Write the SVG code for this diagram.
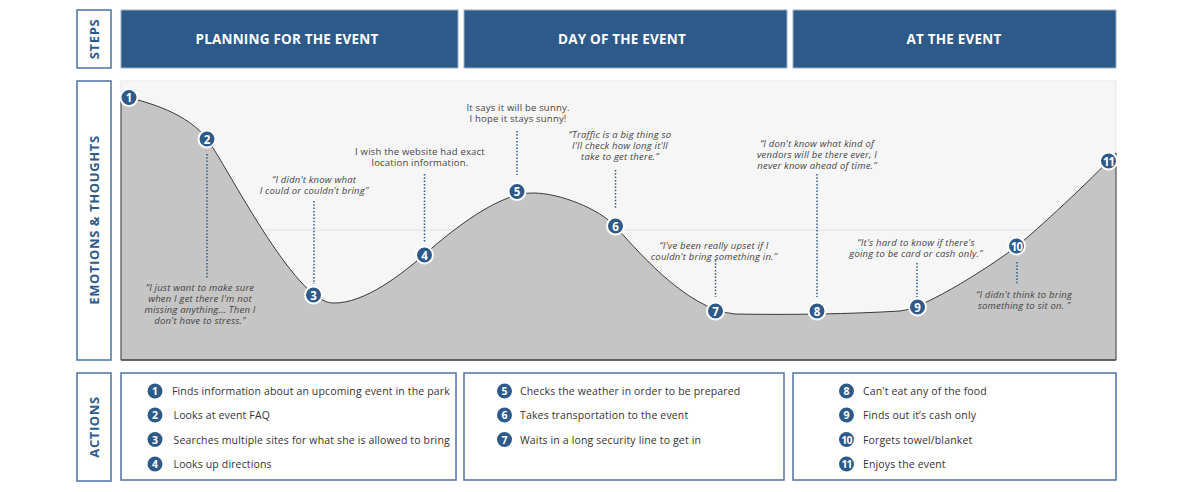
<svg xmlns="http://www.w3.org/2000/svg" width="1186" height="492" viewBox="0 0 1186 492">
<style>
.lbl{fill:#fff;stroke:#4a72a0;stroke-width:1.5}
.lbltxt{font-family:"Open Sans","DejaVu Sans",sans-serif;font-weight:700;font-size:13px;letter-spacing:0.6px;fill:#2d5a8a;text-anchor:middle;dominant-baseline:central}
.hdr{fill:#2d5a89;stroke:#9bb0c8;stroke-width:1}
.hdrtxt{font-family:"Open Sans","DejaVu Sans",sans-serif;font-weight:700;font-size:13.5px;letter-spacing:0.2px;fill:#fff;text-anchor:middle;dominant-baseline:central}
.q{font-family:"Open Sans","DejaVu Sans",sans-serif;font-style:italic;font-size:9.5px;letter-spacing:0.2px;fill:#444;text-anchor:middle;dominant-baseline:central}
.t{font-family:"Open Sans","DejaVu Sans",sans-serif;font-size:9.5px;letter-spacing:0.2px;fill:#444;text-anchor:middle;dominant-baseline:central}
.pt{fill:#2d5a89;stroke:#fff;stroke-width:2}
.ptxt{font-family:"Open Sans","DejaVu Sans",sans-serif;font-weight:700;font-size:11.5px;fill:#fff;text-anchor:middle;dominant-baseline:central}
.dot{stroke:#2d5a89;stroke-width:1.5;stroke-dasharray:1.5 1.8;fill:none}
.abox{fill:#fff;stroke:#4d72a0;stroke-width:1.5}
.badge{fill:#2d5a89}
.btxt{font-family:"Open Sans","DejaVu Sans",sans-serif;font-weight:700;font-size:10.5px;fill:#fff;text-anchor:middle;dominant-baseline:central}
.atxt{font-family:"Open Sans","DejaVu Sans",sans-serif;font-size:10.5px;letter-spacing:0.15px;fill:#333;dominant-baseline:central}
</style>

<g id="label-steps"><rect class="lbl" x="77" y="10" width="34" height="58"/><text class="lbltxt" transform="translate(94,39) rotate(-90)">STEPS</text></g>
<g id="step-planning"><rect class="hdr" x="121" y="10" width="337" height="58"/><text class="hdrtxt" x="287" y="39">PLANNING FOR THE EVENT</text></g>
<g id="step-day"><rect class="hdr" x="464" y="10" width="323" height="58"/><text class="hdrtxt" x="622" y="39">DAY OF THE EVENT</text></g>
<g id="step-at"><rect class="hdr" x="793" y="10" width="323" height="58"/><text class="hdrtxt" x="954" y="39">AT THE EVENT</text></g>

<g id="label-emotions"><rect class="lbl" x="77" y="81" width="34" height="279"/><text class="lbltxt" transform="translate(94,220) rotate(-90)">EMOTIONS &amp; THOUGHTS</text></g>

<g id="chart">
<rect x="121" y="81" width="995" height="279" fill="#f6f6f6" stroke="#e6e6e6" stroke-width="1"/>
<line x1="121" y1="230" x2="1116" y2="230" stroke="#e0e0e0" stroke-width="1"/>
<path d="M121,96 C150,102 188,114 207,139 C226,164 295,303 333,303 C365,304 404,272 424,255 C452,230 500,192 533,193 C560,193 599,209 615,226 C631,243 685,310 735,314 C790,315 850,314 900,311 C925,309 997,262 1017,246 C1037,230 1091,180 1116,153 L1116,360 L121,360 Z" fill="#c5c5c5" stroke="#3a3a3a" stroke-width="1"/>
<line x1="121" y1="360" x2="1116" y2="360" stroke="#555" stroke-width="1.5"/>
</g>

<g id="connectors">
<line class="dot" x1="207" y1="154" x2="207" y2="279"/>
<line class="dot" x1="314" y1="201" x2="314" y2="284"/>
<line class="dot" x1="424.5" y1="174" x2="424.5" y2="242"/>
<line class="dot" x1="517" y1="131" x2="517" y2="175"/>
<line class="dot" x1="615.5" y1="170" x2="615.5" y2="209"/>
<line class="dot" x1="715.5" y1="260" x2="715.5" y2="297"/>
<line class="dot" x1="817" y1="174" x2="817" y2="297"/>
<line class="dot" x1="917" y1="263" x2="917" y2="297"/>
<line class="dot" x1="1017" y1="262" x2="1017" y2="285"/>
</g>

<g id="quotes">
<g id="q2"><text class="q" x="200" y="287">“I just want to make sure</text><text class="q" x="200" y="298">when I get there I'm not</text><text class="q" x="200" y="309">missing anything... Then I</text><text class="q" x="200" y="320">don't have to stress.”</text></g>
<g id="q3"><text class="q" x="314" y="179">“I didn't know what</text><text class="q" x="314" y="190">I could or couldn't bring”</text></g>
<g id="q4"><text class="t" x="420" y="151">I wish the website had exact</text><text class="t" x="420" y="162">location information.</text></g>
<g id="q5"><text class="t" x="518" y="107">It says it will be sunny.</text><text class="t" x="518" y="118">I hope it stays sunny!</text></g>
<g id="q6"><text class="q" x="620" y="134">“Traffic is a big thing so</text><text class="q" x="620" y="145">I'll check how long it'll</text><text class="q" x="620" y="156">take to get there.”</text></g>
<g id="q7"><text class="q" x="714" y="245">“I've been really upset if I</text><text class="q" x="714" y="256">couldn't bring something in.”</text></g>
<g id="q8"><text class="q" x="817" y="143">“I don't know what kind of</text><text class="q" x="817" y="154">vendors will be there ever, I</text><text class="q" x="817" y="165">never know ahead of time.”</text></g>
<g id="q9"><text class="q" x="916" y="242">“It's hard to know if there's</text><text class="q" x="916" y="253">going to be card or cash only.”</text></g>
<g id="q10"><text class="q" x="1024" y="294">“I didn't think to bring</text><text class="q" x="1024" y="305">something to sit on. ”</text></g>
</g>

<g id="points">
<g id="p1"><circle class="pt" cx="129" cy="97.5" r="8.5"/><text class="ptxt" x="129" y="97.5">1</text></g>
<g id="p2"><circle class="pt" cx="207" cy="139" r="8.5"/><text class="ptxt" x="207" y="139">2</text></g>
<g id="p3"><circle class="pt" cx="313.5" cy="295" r="8.5"/><text class="ptxt" x="313.5" y="295">3</text></g>
<g id="p4"><circle class="pt" cx="424.5" cy="255" r="8.5"/><text class="ptxt" x="424.5" y="255">4</text></g>
<g id="p5"><circle class="pt" cx="517" cy="191.5" r="8.5"/><text class="ptxt" x="517" y="191.5">5</text></g>
<g id="p6"><circle class="pt" cx="615.5" cy="226" r="8.5"/><text class="ptxt" x="615.5" y="226">6</text></g>
<g id="p7"><circle class="pt" cx="715.5" cy="311" r="8.5"/><text class="ptxt" x="715.5" y="311">7</text></g>
<g id="p8"><circle class="pt" cx="817" cy="311" r="8.5"/><text class="ptxt" x="817" y="311">8</text></g>
<g id="p9"><circle class="pt" cx="917.5" cy="307" r="8.5"/><text class="ptxt" x="917.5" y="307">9</text></g>
<g id="p10"><circle class="pt" cx="1016.5" cy="246" r="8.5"/><text class="ptxt" x="1016.5" y="246" font-size="10.5" letter-spacing="-0.8">10</text></g>
<g id="p11"><circle class="pt" cx="1108.5" cy="161" r="8.5"/><text class="ptxt" x="1108.5" y="161" font-size="10.5" letter-spacing="-1">11</text></g>
</g>

<g id="label-actions"><rect class="lbl" x="77" y="373" width="34" height="108"/><text class="lbltxt" transform="translate(94,427) rotate(-90)">ACTIONS</text></g>

<g id="actions-planning">
<rect class="abox" x="121" y="373" width="335" height="107"/>
<circle class="badge" cx="155" cy="391" r="7.5"/><text class="btxt" x="155" y="391">1</text><text class="atxt" x="172" y="391">Finds information about an upcoming event in the park</text>
<circle class="badge" cx="155" cy="415" r="7.5"/><text class="btxt" x="155" y="415">2</text><text class="atxt" x="173.5" y="415">Looks at event FAQ</text>
<circle class="badge" cx="155" cy="439.5" r="7.5"/><text class="btxt" x="155" y="439.5">3</text><text class="atxt" x="173.5" y="439.5">Searches multiple sites for what she is allowed to bring</text>
<circle class="badge" cx="155" cy="464" r="7.5"/><text class="btxt" x="155" y="464">4</text><text class="atxt" x="173.5" y="464">Looks up directions</text>
</g>
<g id="actions-day">
<rect class="abox" x="464" y="373" width="320" height="107"/>
<circle class="badge" cx="504.5" cy="391" r="7.5"/><text class="btxt" x="504.5" y="391">5</text><text class="atxt" x="520" y="391">Checks the weather in order to be prepared</text>
<circle class="badge" cx="504.5" cy="415" r="7.5"/><text class="btxt" x="504.5" y="415">6</text><text class="atxt" x="520" y="415">Takes transportation to the event</text>
<circle class="badge" cx="504.5" cy="439.5" r="7.5"/><text class="btxt" x="504.5" y="439.5">7</text><text class="atxt" x="520" y="439.5">Waits in a long security line to get in</text>
</g>
<g id="actions-at">
<rect class="abox" x="793" y="373" width="323" height="107"/>
<circle class="badge" cx="846.5" cy="391" r="7.5"/><text class="btxt" x="846.5" y="391">8</text><text class="atxt" x="863" y="391">Can't eat any of the food</text>
<circle class="badge" cx="846.5" cy="415" r="7.5"/><text class="btxt" x="846.5" y="415">9</text><text class="atxt" x="863" y="415">Finds out it’s cash only</text>
<circle class="badge" cx="846.5" cy="439.5" r="7.5"/><text class="btxt" x="846.5" y="439.5" font-size="10" letter-spacing="-0.8">10</text><text class="atxt" x="863" y="439.5">Forgets towel/blanket</text>
<circle class="badge" cx="846.5" cy="464" r="7.5"/><text class="btxt" x="846.5" y="464" font-size="10" letter-spacing="-1">11</text><text class="atxt" x="863" y="464">Enjoys the event</text>
</g>
</svg>
